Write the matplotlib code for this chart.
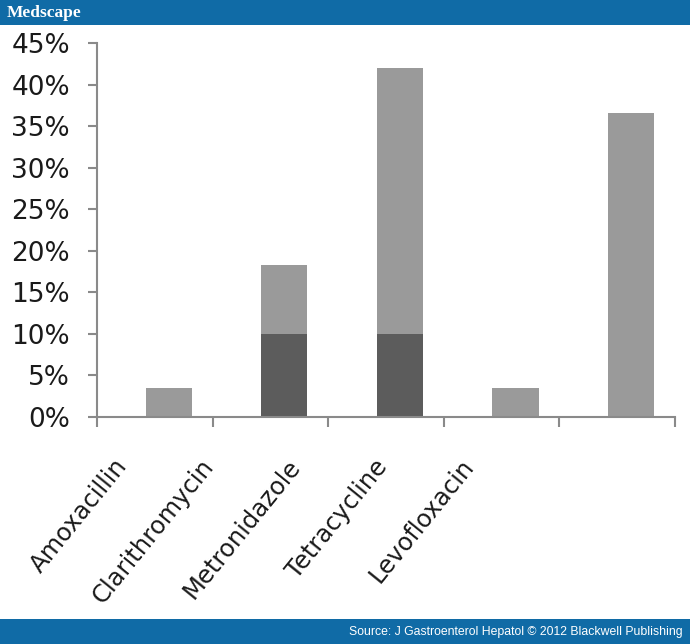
## ::: Importing Packages ::: ##
import numpy as np
import matplotlib
matplotlib.use('Agg')
import matplotlib.pyplot as plt
import matplotlib.transforms as mtransforms

## ::: Chart Data ::: ##
drugs = ['Amoxacillin', 'Clarithromycin', 'Metronidazole', 'Tetracycline', 'Levofloxacin']
dark_part = [0.0, 10.0, 10.0, 0.0, 0.0]       # -> lower (dark grey) segment, %
total_height = [3.4, 18.3, 42.0, 3.5, 36.6]   # -> top of each bar, %
y_ticks = [0, 5, 10, 15, 20, 25, 30, 35, 40, 45]

light_part = [t - d for t, d in zip(total_height, dark_part)]

## ::: Figure ::: ##
W, H, DPI = 690, 644, 100
fig = plt.figure(figsize=(W / DPI, H / DPI), dpi=DPI)
fig.patch.set_facecolor('white')

blue = '#106ba6'
# -> Header / footer bands
fig.add_artist(plt.Rectangle((0, 1 - 25 / H), 1, 25 / H, transform=fig.transFigure,
                             facecolor=blue, edgecolor='none'))
fig.add_artist(plt.Rectangle((0, 0), 1, 25 / H, transform=fig.transFigure,
                             facecolor=blue, edgecolor='none'))
fig.text(7 / W, 1 - 13 / H, 'Medscape', color='white', fontsize=12.5, weight='bold',
         family='Liberation Serif', ha='left', va='center')
fig.text(683 / W, 12 / H, 'Source: J Gastroenterol Hepatol \u00a9 2012 Blackwell Publishing',
         color='white', fontsize=8.8, family='Liberation Sans', ha='right', va='center')

ax = fig.add_axes([97 / W, 227.3 / H, 578 / W, 373.7 / H])

x = np.arange(len(drugs))
shift = 0.12
width = 0.40
ax.bar(x + shift, dark_part, width, color='#5c5c5c', edgecolor='none')
ax.bar(x + shift, light_part, width, bottom=dark_part, color='#9a9a9a', edgecolor='none')

ax.set_xlim(-0.5, len(drugs) - 0.5)
ax.set_ylim(0, 45)

axis_grey = '#8a8a8a'
for side in ['top', 'right']:
    ax.spines[side].set_visible(False)
for side in ['left', 'bottom']:
    ax.spines[side].set_color(axis_grey)
    ax.spines[side].set_linewidth(1.5)

ax.set_yticks(y_ticks)
ax.set_yticklabels([f'{v}%' for v in y_ticks], fontsize=19, family='DejaVu Sans', color='#1a1a1a')
ax.tick_params(axis='y', direction='out', length=6.5, width=1.5, color=axis_grey, pad=13)

# -> x ticks sit on category borders, labels drawn separately
ax.set_xticks(np.arange(len(drugs) + 1) - 0.5)
ax.set_xticklabels([])
ax.tick_params(axis='x', direction='out', length=7, width=1.5, color=axis_grey)

trans = mtransforms.blended_transform_factory(ax.transData, ax.transAxes)
trans = trans + mtransforms.ScaledTranslation(0, -38 / DPI, fig.dpi_scale_trans)
for i, name in enumerate(drugs):
    ax.text(i * 0.75 - 0.36, 0, name, transform=trans, rotation=51, rotation_mode='anchor',
            ha='right', va='top', fontsize=17.5, family='DejaVu Sans', color='#1a1a1a')

fig.savefig('out.png', dpi=DPI)
